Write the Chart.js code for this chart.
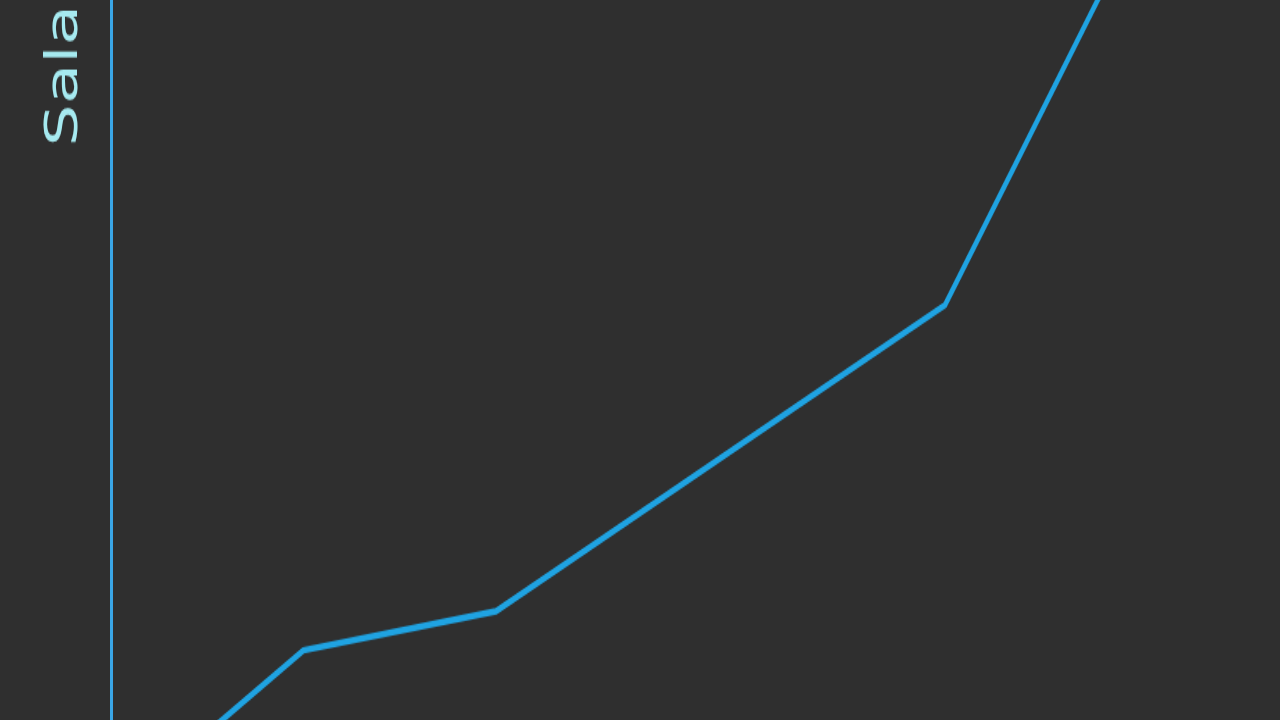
<!DOCTYPE html>
<html>
<head>
<meta charset="utf-8">
<title>Salary</title>
<script src="https://cdn.jsdelivr.net/npm/chart.js"></script>
<style>
  html, body { margin: 0; padding: 0; background: #2f2f2f; overflow: hidden; width: 1280px; height: 720px; }
  #wrap { position: absolute; left: 0; top: -958px; transform: scaleY(1.47); transform-origin: 0 0; }
</style>
</head>
<body>
<div id="wrap"><canvas id="salary-chart" width="1394" height="1361"></canvas></div>
<script>
// Werte
const experience = [0, 3, 6, 13, 16];
const salary = [31000, 52000, 57000, 96000, 145000];

document.addEventListener('DOMContentLoaded', () => {
    const ctx = document.getElementById('salary-chart').getContext('2d');
    new Chart(ctx, {
        type: 'line',
        data: {
            datasets: [{
                label: 'Salary',
                data: experience.map((x, i) => ({ x: x, y: salary[i] })),
                borderColor: '#1fa3e2',
                borderWidth: 4.5,
                pointRadius: 0,
                tension: 0,
                fill: false
            }]
        },
        options: {
            responsive: false,
            animation: false,
            devicePixelRatio: 1,
            layout: { padding: { left: 30, top: 0, right: 0, bottom: 0 } },
            plugins: {
                legend: { display: false },
                tooltip: { enabled: false }
            },
            scales: {
                x: {
                    type: 'linear',
                    display: false,
                    min: 0,
                    max: 20
                },
                y: {
                    min: 2000,
                    max: 257000,
                    grid: { display: false },
                    ticks: { display: false },
                    border: { color: '#3aa6e6', width: 3 },
                    title: {
                        display: true,
                        text: 'Salary',
                        color: '#a6eaf0',
                        font: { family: 'DejaVu Sans', size: 45 },
                        padding: { top: 8, bottom: 11 }
                    }
                }
            }
        }
    });
});
</script>
</body>
</html>
